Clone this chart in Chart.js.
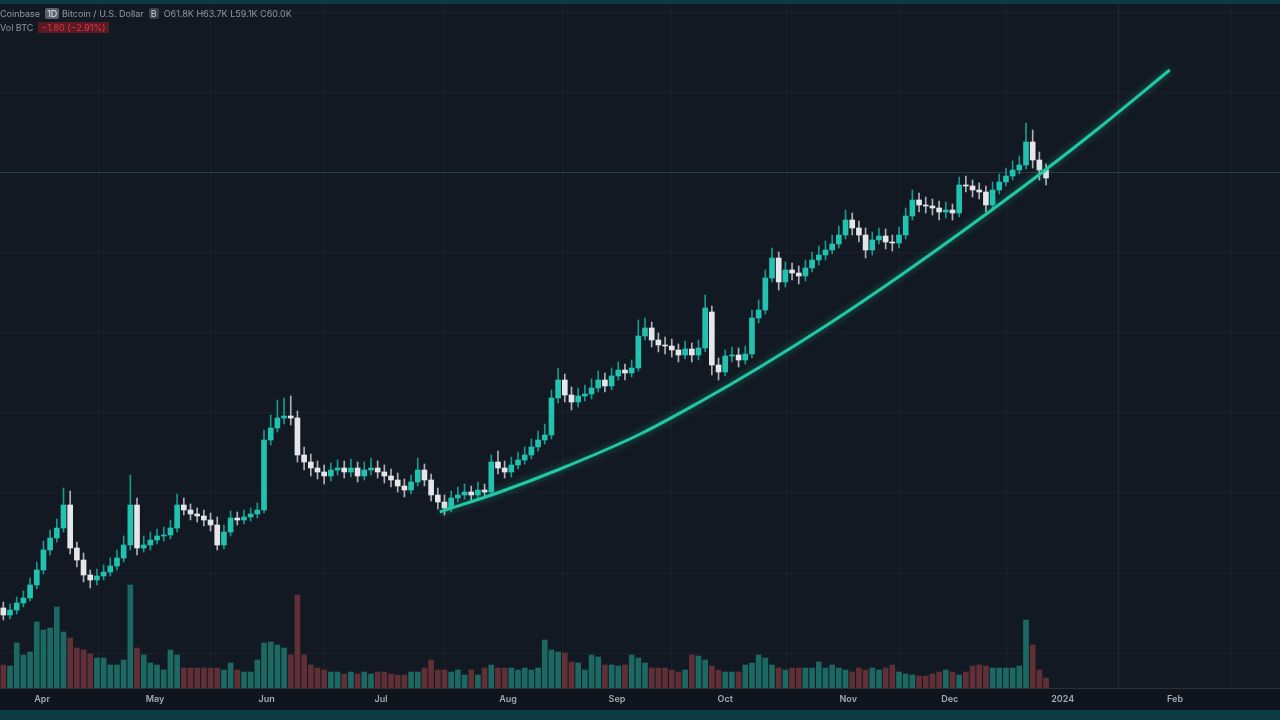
<!DOCTYPE html>
<html>
<head>
<meta charset="utf-8">
<title>BTCUSD 1D</title>
<script src="https://cdn.jsdelivr.net/npm/chart.js@4.4.1/dist/chart.umd.min.js"></script>
<style>
  html, body { margin: 0; padding: 0; }
  body {
    width: 1280px; height: 720px; overflow: hidden; position: relative;
    background: #0c3b46;
    font-family: Inter, "DejaVu Sans", sans-serif;
  }
  #wrap { position: absolute; left: 0; top: 4px; width: 1280px; height: 706px; background: #131923; }
  #legend {
    position: absolute; left: 0; top: 7px; z-index: 2;
    font-size: 9px; line-height: 14px; color: #8e97a2; white-space: nowrap;
  }
  #legend .tag { background: #5b6170; color: #e4e6ea; padding: 0 2px; border-radius: 2px; }
  #legend .tag2 { background: #3a404c; color: #c9ccd2; padding: 0 2px; border-radius: 2px; }
  #legend .red { background: #5a1a24; color: #e0364d; padding: 0 3px; }
</style>
</head>
<body>
<div id="wrap">
  <canvas id="priceChart" width="1280" height="706"></canvas>
</div>
<div id="legend">
  <div>Coinbase &nbsp;<span class="tag">1D</span> Bitcoin / U.S. Dollar &nbsp;<span class="tag2">B</span> &nbsp;O61.8K H63.7K L59.1K C60.0K</div>
  <div>Vol BTC &nbsp;<span class="red">−1.80 (−2.91%)</span></div>
</div>

<script>
// prices in thousands (USD), one candle per day
const opens = [
  15.2,14.5,15.0,15.7,16.2,17.5,19.0,21.0,22.2,23.2,
  25.5,21.2,20.0,18.5,18.0,18.4,18.8,19.4,20.2,21.5,
  25.5,21.2,21.5,22.0,22.4,22.5,23.2,25.5,25.0,24.6,
  24.4,24.0,23.5,21.5,22.8,24.2,24.0,24.3,24.6,25.0,
  32.0,33.2,34.2,34.4,34.2,30.5,29.8,29.2,28.8,28.4,
  29.0,29.2,28.8,29.2,28.4,29.0,29.2,28.8,28.4,28.0,
  27.4,27.0,27.8,29.0,28.0,26.5,25.8,25.2,26.2,26.5,
  26.8,26.5,27.0,26.8,29.8,29.2,28.8,29.5,30.0,30.5,
  31.3,32.0,32.5,36.2,38.0,36.5,35.8,36.4,36.6,37.2,
  38.0,37.4,38.4,39.0,38.7,39.2,42.4,43.2,42.0,41.5,
  41.4,41.0,40.5,41.1,40.5,41.2,44.8,39.5,38.8,40.4,
  40.5,40.0,40.6,44.2,45.0,48.2,50.2,47.8,49.0,48.7,
  48.4,49.2,50.0,50.5,51.0,51.6,52.5,54.0,53.2,52.5,
  51.0,52.0,52.4,51.8,51.7,52.5,54.4,56.0,55.5,55.4,
  55.2,54.8,55.0,54.7,57.5,57.4,57.0,56.8,55.5,57.0,
  57.8,58.4,59.0,59.5,61.8,60.0,59.0
];
const closes = [
  14.5,15.0,15.7,16.2,17.5,19.0,21.0,22.2,23.2,25.5,
  21.2,20.0,18.5,18.0,18.4,18.8,19.4,20.2,21.5,25.5,
  21.2,21.5,22.0,22.4,22.5,23.2,25.5,25.0,24.6,24.4,
  24.0,23.5,21.5,22.8,24.2,24.0,24.3,24.6,25.0,32.0,
  33.2,34.2,34.4,34.2,30.5,29.8,29.2,28.8,28.4,29.0,
  29.2,28.8,29.2,28.4,29.0,29.2,28.8,28.4,28.0,27.4,
  27.0,27.8,29.0,28.0,26.5,25.8,25.2,26.2,26.5,26.8,
  26.5,27.0,26.8,29.8,29.2,28.8,29.5,30.0,30.5,31.3,
  32.0,32.5,36.2,38.0,36.5,35.8,36.4,36.6,37.2,38.0,
  37.4,38.4,39.0,38.7,39.2,42.4,43.2,42.0,41.5,41.4,
  41.0,40.5,41.1,40.5,41.2,45.2,39.5,38.8,40.4,40.5,
  40.0,40.6,44.2,45.0,48.2,50.2,47.8,49.0,48.7,48.4,
  49.2,50.0,50.5,51.0,51.6,52.5,54.0,53.2,52.5,51.0,
  52.0,52.4,51.8,51.7,52.5,54.4,56.0,55.5,55.4,55.2,
  54.8,55.0,54.7,57.5,57.4,57.0,56.8,55.5,57.0,57.8,
  58.4,59.0,59.5,61.8,60.0,59.0,58.2
];
const highs = [
  15.8,15.6,16.3,16.9,18.2,19.8,21.9,23.0,24.1,27.2,
  26.9,21.8,20.7,19.0,19.1,19.5,20.2,21.0,22.4,28.5,
  26.2,22.4,22.8,23.1,23.3,24.0,26.6,26.2,25.6,25.2,
  25.0,24.7,24.3,23.5,24.9,24.8,25.0,25.2,25.7,33.0,
  34.5,36.0,36.2,36.4,34.9,31.3,30.6,29.9,29.5,29.7,
  30.0,29.9,30.1,29.8,29.8,30.2,29.9,29.5,29.1,28.7,
  28.1,28.5,30.2,29.6,28.6,27.2,26.5,26.9,27.3,27.6,
  27.4,27.8,27.6,30.5,30.9,29.9,30.3,30.8,31.3,32.1,
  32.9,33.6,37.0,39.2,38.6,37.3,37.2,37.5,38.1,38.9,
  38.7,39.2,39.8,39.6,40.0,44.0,44.2,43.8,42.7,42.3,
  42.1,41.6,41.9,41.7,42.0,46.5,45.4,40.2,41.0,41.3,
  41.2,41.4,45.0,46.0,49.0,51.2,50.8,49.8,49.7,49.4,
  50.0,50.8,51.4,51.9,52.5,53.4,55.0,54.7,53.9,53.2,
  52.8,53.2,53.1,52.5,53.3,55.2,57.0,56.7,56.3,56.1,
  55.9,55.8,55.6,58.3,58.4,58.0,57.7,57.4,57.8,58.6,
  59.2,59.9,60.4,63.7,63.0,60.8,59.6
];
const lows = [
  14.0,14.1,14.6,15.3,15.9,17.1,18.6,20.5,21.8,22.8,
  20.6,19.3,17.8,17.2,17.5,18.0,18.4,19.0,19.8,21.0,
  20.5,20.8,21.0,21.6,21.9,22.1,22.8,24.5,24.0,23.8,
  23.4,22.9,21.0,21.1,22.4,23.5,23.6,23.9,24.2,24.7,
  31.5,32.8,33.6,33.5,29.8,29.0,28.4,28.1,27.6,27.9,
  28.5,28.2,28.3,27.8,28.0,28.5,28.2,27.7,27.3,26.8,
  26.3,26.6,27.4,27.4,25.9,25.1,24.5,24.8,25.8,26.1,
  25.9,26.1,26.2,26.4,28.6,28.2,28.3,29.1,29.6,30.1,
  30.9,31.6,32.1,35.7,35.8,35.0,35.3,35.9,36.1,36.8,
  36.8,37.0,38.0,38.0,38.3,38.9,42.0,41.3,40.8,40.6,
  40.3,39.8,40.1,39.8,40.0,40.8,38.5,38.0,38.4,39.8,
  39.3,39.6,40.2,43.7,44.6,47.8,47.0,47.3,48.0,47.6,
  47.9,48.8,49.5,50.0,50.6,51.2,52.1,52.5,51.8,50.2,
  50.5,51.6,51.1,50.9,51.2,52.1,54.0,54.8,54.7,54.5,
  54.0,54.2,54.0,54.3,56.8,56.3,56.1,54.8,55.0,56.6,
  57.4,58.0,58.6,59.1,59.2,58.0,57.5
];
// volume, thousands of BTC
const volumes = [
  2.3,2.2,4.5,3.3,3.6,6.6,5.8,6.0,8.1,5.6,
  5.0,4.0,3.8,3.4,3.0,3.0,2.3,2.3,2.8,10.3,
  4.0,3.3,2.5,2.3,1.8,3.8,3.3,2.0,2.0,2.0,
  2.0,2.0,2.0,1.8,2.5,1.8,1.6,1.6,2.8,4.5,
  4.6,4.3,4.0,3.3,9.3,3.3,2.3,2.0,1.8,1.6,
  1.6,1.4,1.6,1.4,1.6,1.4,1.6,1.6,1.4,1.3,
  1.3,1.6,1.6,2.0,2.8,1.8,1.8,1.6,1.8,1.3,
  1.8,1.3,2.0,2.3,2.0,2.0,2.0,1.8,2.0,1.8,
  2.0,4.8,3.8,3.6,3.5,2.6,2.5,1.8,3.3,3.1,
  2.3,2.3,2.2,2.3,3.3,3.0,2.5,2.0,2.0,2.0,
  1.8,1.6,1.8,3.3,3.2,2.8,2.2,1.8,1.6,1.6,
  1.6,2.3,2.5,3.3,3.0,2.3,2.0,1.8,2.0,2.0,
  2.0,2.0,2.6,2.0,2.3,2.0,1.8,1.6,2.0,1.8,
  2.0,1.8,2.0,2.3,1.6,1.4,1.3,1.2,1.2,1.4,
  1.6,1.8,1.6,1.3,1.6,2.2,2.3,2.2,2.0,2.0,
  2.0,2.0,2.2,6.8,4.3,1.8,1.0
];

// projected trend curve (day index, price)
const curveDays   = [65.3, 74.3, 83.3, 95.3, 104.2, 113.2, 123.7, 134.1, 144.6, 155.1, 164.1, 174.5];
const curvePrices = [24.8, 26.8, 29.1, 32.6, 35.8, 39.3, 43.7, 48.4, 53.4, 58.6, 63.3, 69.0];

// axis ticks
const tickDays   = [5.8, 22.7, 39.4, 56.5, 75.5, 91.8, 108, 126.4, 141.6, 158.5, 175.3];
const tickLabels = ["Apr", "May", "Jun", "Jul", "Aug", "Sep", "Oct", "Nov", "Dec", "2024", "Feb"];
const gridPrices = [74.7, 66.7, 58.7, 50.7, 42.7, 34.7, 26.7, 18.7, 10.7];

const UP = "#22c2b0", DOWN = "#e4e6e9";
const UP_WICK = "#1a9a8c", DOWN_WICK = "#aeb2b8";
const UP_VOL = "rgba(32,140,126,0.7)", DOWN_VOL = "rgba(128,56,62,0.72)";

const isUp = i => closes[i] >= opens[i];

const bgPlugin = {
  id: "bg",
  beforeDraw(chart) {
    const { ctx, chartArea, width, height } = chart;
    ctx.save();
    ctx.fillStyle = "#131923";
    ctx.fillRect(0, 0, width, height);
    ctx.fillStyle = "#10141c";
    ctx.fillRect(0, chartArea.bottom, width, height - chartArea.bottom);
    ctx.strokeStyle = "#2a303b";
    ctx.beginPath();
    ctx.moveTo(0, chartArea.bottom + 0.5);
    ctx.lineTo(width, chartArea.bottom + 0.5);
    ctx.stroke();
    ctx.restore();
  }
};

// soft glow on the trend curve
const glowPlugin = {
  id: "glow",
  beforeDatasetDraw(chart, args) {
    if (args.index !== 0) return;
    chart.ctx.save();
    chart.ctx.shadowColor = "rgba(30,210,170,0.5)";
    chart.ctx.shadowBlur = 7;
  },
  afterDatasetDraw(chart, args) {
    if (args.index !== 0) return;
    chart.ctx.restore();
  }
};

const ctx = document.getElementById("priceChart").getContext("2d");

new Chart(ctx, {
  type: "bar",
  data: {
    datasets: [
      {
        type: "line",
        label: "Trend",
        data: curveDays.map((d, k) => ({ x: d, y: curvePrices[k] })),
        borderColor: "#1fc9a6",
        borderWidth: 3,
        pointRadius: 0,
        cubicInterpolationMode: "monotone",
        yAxisID: "y",
        order: 0
      },
      {
        label: "Body",
        data: closes.map((c, i) => ({ x: i, y: [opens[i], c] })),
        backgroundColor: closes.map((c, i) => isUp(i) ? UP : DOWN),
        barThickness: 5,
        minBarLength: 1,
        grouped: false,
        yAxisID: "y",
        order: 1
      },
      {
        label: "Wick",
        data: closes.map((c, i) => ({ x: i, y: [lows[i], highs[i]] })),
        backgroundColor: closes.map((c, i) => isUp(i) ? UP_WICK : DOWN_WICK),
        barThickness: 1,
        grouped: false,
        yAxisID: "y",
        order: 2
      },
      {
        label: "Volume",
        data: volumes.map((v, i) => ({ x: i, y: v })),
        backgroundColor: volumes.map((v, i) => isUp(i) ? UP_VOL : DOWN_VOL),
        barThickness: 5,
        grouped: false,
        yAxisID: "vol",
        order: 3
      }
    ]
  },
  options: {
    responsive: false,
    animation: false,
    devicePixelRatio: 1,
    layout: { padding: 0 },
    plugins: {
      legend: { display: false },
      tooltip: { enabled: false }
    },
    scales: {
      x: {
        type: "linear",
        min: -0.5,
        max: 191,
        offset: false,
        afterBuildTicks: s => { s.ticks = tickDays.map(v => ({ value: v })); },
        afterFit: s => { s.height = 22; },
        ticks: {
          autoSkip: false,
          maxRotation: 0,
          padding: 6,
          color: "#a4aab3",
          font: { family: "Inter", size: 9, weight: "600" },
          callback: (v, i) => tickLabels[i]
        },
        grid: {
          drawTicks: false,
          color: c => c.index === tickDays.length - 1 ? "rgba(255,255,255,0.07)" : "rgba(255,255,255,0.03)"
        },
        border: { display: false }
      },
      y: {
        type: "linear",
        position: "right",
        min: 7.2,
        max: 75.6,
        afterBuildTicks: s => { s.ticks = gridPrices.map(v => ({ value: v })); },
        afterFit: s => { s.width = 0; },
        ticks: { display: false },
        grid: {
          drawTicks: false,
          color: c => c.index === 2 ? "rgba(80,130,140,0.35)" : "rgba(255,255,255,0.035)"
        },
        border: { display: false }
      },
      vol: {
        type: "linear",
        display: false,
        min: 0,
        max: 68.4
      }
    }
  },
  plugins: [bgPlugin, glowPlugin]
});
</script>
</body>
</html>
